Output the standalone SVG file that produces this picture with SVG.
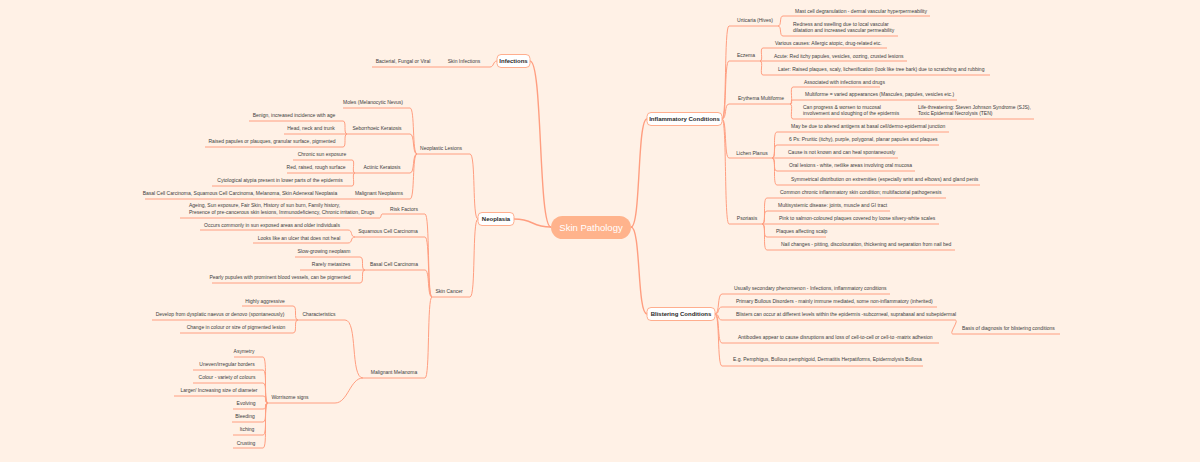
<svg xmlns="http://www.w3.org/2000/svg" width="1200" height="462" viewBox="0 0 1200 462">
<style>
text{font-family:"Liberation Sans",Arial,sans-serif;font-size:5px;fill:#3c3c3c}
.m{text-anchor:middle}
.u,.c{stroke:#FF9E80;stroke-width:1;fill:none}
.c2{stroke:#FF9E80;stroke-width:1.4;fill:none}
.box{fill:#fff;stroke:#FFAE8E;stroke-width:1}
.b{font-weight:bold;font-size:6px;text-anchor:middle;fill:#2a2a2a}
</style>
<rect width="1200" height="462" fill="#FFF1E6"/>
<g id="connectors">
<path class="c2" d="M551,227 C538,227 543,61 530,61"/>
<path class="c2" d="M551,227 C530,227 535,219 514,219"/>
<path class="c2" d="M631,227 C641,227 637,119 647,119"/>
<path class="c2" d="M631,227 C641,227 637,314 647,314"/>
<path class="c" d="M497,61 C493,61 494,67 490,67"/>
<path class="c" d="M478,219 C472,219 476,154 470,154"/>
<path class="c" d="M478,219 C472,219 476,297 470,297"/>
<path class="c" d="M417,154 C412,154 415,108 410,108"/>
<path class="c" d="M417,154 C412,154 415,134 410,134"/>
<path class="c" d="M417,154 C412,154 415,173 410,173"/>
<path class="c" d="M417,154 C412,154 415,199 410,199"/>
<path class="c" d="M347,134 C343,134 347,121 343,121"/>
<path class="c" d="M347,134 L343,134"/>
<path class="c" d="M347,134 C343,134 347,147 343,147"/>
<path class="c" d="M355,173 C351,173 356,160 352,160"/>
<path class="c" d="M355,173 L352,173"/>
<path class="c" d="M355,173 C351,173 356,186 352,186"/>
<path class="c" d="M352,199 L340,199"/>
<path class="c" d="M432,297 C427,297 430,214 425,214"/>
<path class="c" d="M432,297 C427,297 430,237 425,237"/>
<path class="c" d="M432,297 C427,297 430,270 425,270"/>
<path class="c" d="M432,297 C427,297 430,378 425,378"/>
<path class="c" d="M382,214 C381,214 381,218 380,218"/>
<path class="c" d="M355,237 C350,237 353,230 348,230"/>
<path class="c" d="M355,237 C350,237 353,243 348,243"/>
<path class="c" d="M365,270 C360,270 365,257 360,257"/>
<path class="c" d="M365,270 L360,270"/>
<path class="c" d="M365,270 C360,270 365,283 360,283"/>
<path class="c" d="M363,378 C350,378 358,320 345,320"/>
<path class="c" d="M363,378 C350,378 348,403 335,403"/>
<path class="c" d="M298,320 C293,320 298,306 293,306"/>
<path class="c" d="M298,320 L293,320"/>
<path class="c" d="M298,320 C293,320 298,333 293,333"/>
<path class="c" d="M268,403 C263,403 268,357 263,357"/>
<path class="c" d="M268,403 C263,403 268,370 263,370"/>
<path class="c" d="M268,403 C263,403 268,383 263,383"/>
<path class="c" d="M268,403 C263,403 268,396 263,396"/>
<path class="c" d="M268,403 C263,403 268,409 263,409"/>
<path class="c" d="M268,403 C263,403 268,422 263,422"/>
<path class="c" d="M268,403 C263,403 268,435 263,435"/>
<path class="c" d="M268,403 C263,403 268,448 263,448"/>
<path class="c" d="M722,119 C727,119 724,26 729,26"/>
<path class="c" d="M722,119 C727,119 724,61 729,61"/>
<path class="c" d="M722,119 C727,119 724,104 729,104"/>
<path class="c" d="M722,119 C727,119 724,158 729,158"/>
<path class="c" d="M722,119 C727,119 724,224 729,224"/>
<path class="c" d="M778,26 C782,26 779,16 783,16"/>
<path class="c" d="M778,26 C782,26 779,36 783,36"/>
<path class="c" d="M760,61 C764,61 759,48 763,48"/>
<path class="c" d="M760,61 L763,61"/>
<path class="c" d="M760,61 C764,61 759,75 763,75"/>
<path class="c" d="M790,104 C794,104 789,87 793,87"/>
<path class="c" d="M790,104 C794,104 789,100 793,100"/>
<path class="c" d="M790,104 C794,104 789,119 793,119"/>
<path class="c" d="M772,158 C777,158 772,132 777,132"/>
<path class="c" d="M772,158 C777,158 772,145 777,145"/>
<path class="c" d="M772,158 L777,158"/>
<path class="c" d="M772,158 C777,158 772,171 777,171"/>
<path class="c" d="M772,158 C777,158 772,185 777,185"/>
<path class="c" d="M762,224 C767,224 762,198 767,198"/>
<path class="c" d="M762,224 C767,224 762,211 767,211"/>
<path class="c" d="M762,224 L767,224"/>
<path class="c" d="M762,224 C767,224 762,237 767,237"/>
<path class="c" d="M762,224 C767,224 762,250 767,250"/>
<path class="c" d="M715,314 C720,314 717,294 722,294"/>
<path class="c" d="M715,314 C720,314 717,307 722,307"/>
<path class="c" d="M715,314 C720,314 717,320 722,320"/>
<path class="c" d="M715,314 C720,314 717,343 722,343"/>
<path class="c" d="M715,314 C720,314 717,366 722,366"/>
<path class="c" d="M955,320 C960,320 948,334 953,334"/>
</g>
<g id="center"><rect x="551" y="216" width="80" height="23" rx="11.5" fill="#FFB38C"/><text x="591" y="230.5" class="m" style="font-size:9.5px;fill:#fff">Skin Pathology</text></g>
<g id="infections"><rect class="box" x="497" y="54.5" width="33" height="13" rx="4"/><text class="b" x="513.5" y="63.2">Infections</text></g>
<g id="skin-infections"><line class="u" x1="440" y1="67" x2="490" y2="67"/><text class="m" x="464" y="63">Skin Infections</text></g>
<g id="bacterial"><line class="u" x1="372" y1="67" x2="440" y2="67"/><text class="m" x="403" y="63">Bacterial, Fungal or Viral</text></g>
<g id="neoplasia"><rect class="box" x="478" y="212.5" width="36" height="13" rx="4"/><text class="b" x="496" y="221.2">Neoplasia</text></g>
<g id="neoplastic-lesions"><line class="u" x1="417" y1="154" x2="470" y2="154"/><text class="m" x="441" y="150">Neoplastic Lesions</text></g>
<g id="moles"><line class="u" x1="343" y1="108" x2="410" y2="108"/><text class="m" x="373" y="104">Moles (Melanocytic Nevus)</text></g>
<g id="seb"><line class="u" x1="347" y1="134" x2="410" y2="134"/><text class="m" x="377" y="130">Seborrhoeic Keratosis</text></g>
<g id="seb1"><line class="u" x1="249" y1="121" x2="343" y2="121"/><text class="m" x="294" y="117">Benign, increased incidence with age</text></g>
<g id="seb2"><line class="u" x1="284" y1="134" x2="343" y2="134"/><text class="m" x="311" y="130">Head, neck and trunk</text></g>
<g id="seb3"><line class="u" x1="205" y1="147" x2="343" y2="147"/><text class="m" x="272" y="143">Raised papules or plauques, granular surface, pigmented</text></g>
<g id="actinic"><line class="u" x1="355" y1="173" x2="410" y2="173"/><text class="m" x="382" y="169">Actinic Keratosis</text></g>
<g id="ak1"><line class="u" x1="293" y1="160" x2="352" y2="160"/><text class="m" x="322" y="156">Chronic sun exposure</text></g>
<g id="ak2"><line class="u" x1="287" y1="173" x2="352" y2="173"/><text class="m" x="316" y="169">Red, raised, rough surface</text></g>
<g id="ak3"><line class="u" x1="212" y1="186" x2="352" y2="186"/><text class="m" x="280" y="182">Cytological atypia present in lower parts of the epidermis</text></g>
<g id="malig-neo"><line class="u" x1="352" y1="199" x2="410" y2="199"/><text class="m" x="379" y="195">Malignant Neoplasms</text></g>
<g id="mn1"><line class="u" x1="145" y1="199" x2="340" y2="199"/><text class="m" x="240" y="195">Basal Cell Carcinoma, Squamous Cell Carcinoma, Melanoma, Skin Adenexal Neoplasia</text></g>
<g id="skin-cancer"><line class="u" x1="432" y1="297" x2="470" y2="297"/><text class="m" x="449" y="293">Skin Cancer</text></g>
<g id="risk"><line class="u" x1="382" y1="214" x2="425" y2="214"/><text class="m" x="404" y="211">Risk Factors</text></g>
<g id="risk1"><line class="u" x1="180" y1="218" x2="380" y2="218"/><text x="189" y="207">Ageing, Sun exposure, Fair Skin, History of sun burn, Family history,</text><text x="189" y="213.5">Presence of pre-cancerous skin lesions, Immunodeficiency, Chronic irritation, Drugs</text></g>
<g id="scc"><line class="u" x1="355" y1="237" x2="425" y2="237"/><text class="m" x="388" y="233">Squamous Cell Carcinoma</text></g>
<g id="scc1"><line class="u" x1="200" y1="230" x2="348" y2="230"/><text class="m" x="272" y="227">Occurs commonly in sun exposed areas and older individuals</text></g>
<g id="scc2"><line class="u" x1="253" y1="243" x2="348" y2="243"/><text class="m" x="299" y="240">Looks like an ulcer that does not heal</text></g>
<g id="bcc"><line class="u" x1="365" y1="270" x2="425" y2="270"/><text class="m" x="394" y="266">Basal Cell Carcinoma</text></g>
<g id="bcc1"><line class="u" x1="295" y1="257" x2="360" y2="257"/><text class="m" x="324" y="253">Slow-growing neoplasm</text></g>
<g id="bcc2"><line class="u" x1="300" y1="270" x2="360" y2="270"/><text class="m" x="331" y="266">Rarely metasizes</text></g>
<g id="bcc3"><line class="u" x1="212" y1="283" x2="360" y2="283"/><text class="m" x="280" y="279">Pearly pupules with prominent blood vessels, can be pigmented</text></g>
<g id="mm"><line class="u" x1="363" y1="378" x2="425" y2="378"/><text class="m" x="394" y="374">Malignant Melanoma</text></g>
<g id="char"><line class="u" x1="298" y1="320" x2="345" y2="320"/><text class="m" x="319" y="316">Characteristics</text></g>
<g id="ch1"><line class="u" x1="242" y1="306" x2="293" y2="306"/><text class="m" x="265" y="303">Highly aggressive</text></g>
<g id="ch2"><line class="u" x1="152" y1="320" x2="293" y2="320"/><text class="m" x="220" y="316">Develop from dysplatic naevus or denovo (spontaneously)</text></g>
<g id="ch3"><line class="u" x1="180" y1="333" x2="293" y2="333"/><text class="m" x="236" y="329">Change in colour or size of pigmented lesion</text></g>
<g id="worrisome"><line class="u" x1="268" y1="403" x2="335" y2="403"/><text class="m" x="290" y="399">Worrisome signs</text></g>
<g id="w1"><line class="u" x1="234" y1="357" x2="263" y2="357"/><text class="m" x="244" y="353">Asymetry</text></g>
<g id="w2"><line class="u" x1="193" y1="370" x2="263" y2="370"/><text class="m" x="227" y="366">Uneven/irregular borders</text></g>
<g id="w3"><line class="u" x1="193" y1="383" x2="263" y2="383"/><text class="m" x="227" y="379">Colour - variety of colours</text></g>
<g id="w4"><line class="u" x1="174" y1="396" x2="263" y2="396"/><text class="m" x="219" y="392">Larger/ Increasing size of diameter</text></g>
<g id="w5"><line class="u" x1="233" y1="409" x2="263" y2="409"/><text class="m" x="246" y="405">Evolving</text></g>
<g id="w6"><line class="u" x1="232" y1="422" x2="263" y2="422"/><text class="m" x="245" y="418">Bleeding</text></g>
<g id="w7"><line class="u" x1="233" y1="435" x2="263" y2="435"/><text class="m" x="247" y="431">Itching</text></g>
<g id="w8"><line class="u" x1="233" y1="448" x2="263" y2="448"/><text class="m" x="246" y="445">Crusting</text></g>
<g id="inflammatory"><rect class="box" x="647" y="112.5" width="75" height="13" rx="4"/><text class="b" x="684.5" y="121.2">Inflammatory Conditions</text></g>
<g id="urticaria"><line class="u" x1="729" y1="26" x2="778" y2="26"/><text class="m" x="755" y="22">Urticaria (Hives)</text></g>
<g id="u1"><line class="u" x1="783" y1="16" x2="930" y2="16"/><text x="795" y="13">Mast cell degranulation - dermal vascular hyperpermeability</text></g>
<g id="u2"><line class="u" x1="783" y1="36" x2="898" y2="36"/><text x="793" y="26">Redness and swelling due to local vascular</text><text x="793" y="32">dilatation and increased vascular permeability</text></g>
<g id="eczema"><line class="u" x1="729" y1="61" x2="760" y2="61"/><text class="m" x="746" y="57">Eczema</text></g>
<g id="e1"><line class="u" x1="763" y1="48" x2="887" y2="48"/><text x="775" y="45">Various causes: Allergic atopic, drug-related etc.</text></g>
<g id="e2"><line class="u" x1="763" y1="61" x2="907" y2="61"/><text x="774" y="58">Acute: Red itchy papules, vesicles, oozing, crusted lesions</text></g>
<g id="e3"><line class="u" x1="763" y1="75" x2="990" y2="75"/><text x="778" y="71">Later: Raised plaques, scaly, lichenification (look like tree bark) due to scratching and rubbing</text></g>
<g id="erythema"><line class="u" x1="729" y1="104" x2="790" y2="104"/><text class="m" x="761" y="100">Erythema Multiforme</text></g>
<g id="em1"><line class="u" x1="793" y1="87" x2="880" y2="87"/><text x="804" y="84">Associated with infections and drugs</text></g>
<g id="em2"><line class="u" x1="793" y1="100" x2="957" y2="100"/><text x="805" y="96">Multiforme = varied appearances (Mascules, papules, vesicles etc.)</text></g>
<g id="em3"><line class="u" x1="793" y1="119" x2="1034" y2="119"/><text x="803" y="109">Can progress &amp; worsen to mucosal</text><text x="803" y="115">involvement and sloughing of the epidermis</text><text x="918" y="109">Life-threatening: Steven Johnson Syndrome (SJS),</text><text x="918" y="115">Toxic Epidermal Necrolysis (TEN)</text></g>
<g id="lichen"><line class="u" x1="729" y1="158" x2="772" y2="158"/><text class="m" x="752" y="155">Lichen Planus</text></g>
<g id="l1"><line class="u" x1="777" y1="132" x2="949" y2="132"/><text x="791" y="128">May be due to altered antigens at basal cell/dermo-epidermal junction</text></g>
<g id="l2"><line class="u" x1="777" y1="145" x2="939" y2="145"/><text x="789" y="141">6 Ps: Pruritic (itchy), purple, polygonal, planar papules and plaques</text></g>
<g id="l3"><line class="u" x1="777" y1="158" x2="898" y2="158"/><text x="788" y="154">Cause is not known and can heal spontaneously</text></g>
<g id="l4"><line class="u" x1="777" y1="171" x2="915" y2="171"/><text x="789" y="167">Oral lesions - white, netlike areas involving oral mucosa</text></g>
<g id="l5"><line class="u" x1="777" y1="185" x2="980" y2="185"/><text x="791" y="181">Symmetrical distribution on extremities (especially wrist and elbows) and gland penis</text></g>
<g id="psoriasis"><line class="u" x1="729" y1="224" x2="762" y2="224"/><text class="m" x="747" y="220">Psoriasis</text></g>
<g id="p1"><line class="u" x1="767" y1="198" x2="946" y2="198"/><text x="780" y="194">Common chronic inflammatory skin condition; multifactorial pathogenesis</text></g>
<g id="p2"><line class="u" x1="767" y1="211" x2="890" y2="211"/><text x="778" y="207">Multisystemic disease: joints, muscle and GI tract</text></g>
<g id="p3"><line class="u" x1="767" y1="224" x2="939" y2="224"/><text x="779" y="220">Pink to salmon-coloured plaques covered by loose silvery-white scales</text></g>
<g id="p4"><line class="u" x1="767" y1="237" x2="826" y2="237"/><text x="776" y="233">Plaques affecting scalp</text></g>
<g id="p5"><line class="u" x1="767" y1="250" x2="955" y2="250"/><text x="781" y="246">Nail changes - pitting, discolouration, thickening and separation from nail bed</text></g>
<g id="blistering"><rect class="box" x="647" y="307.5" width="68" height="13" rx="4"/><text class="b" x="681" y="316.2">Blistering Conditions</text></g>
<g id="b1"><line class="u" x1="722" y1="294" x2="890" y2="294"/><text x="734" y="290">Usually secondary phenomenon - Infections, inflammatory conditions</text></g>
<g id="b2"><line class="u" x1="722" y1="307" x2="937" y2="307"/><text x="736" y="303">Primary Bullous Disorders - mainly immune mediated, some non-inflammatory (inherited)</text></g>
<g id="b3"><line class="u" x1="722" y1="320" x2="955" y2="320"/><text x="736" y="316">Blisters can occur at different levels within the epidermis -subcorneal, suprabasal and subepidermal</text></g>
<g id="b4"><line class="u" x1="722" y1="343" x2="939" y2="343"/><text x="738" y="339">Antibodies appear to cause disruptions and loss of cell-to-cell or cell-to -matrix adhesion</text></g>
<g id="b5"><line class="u" x1="722" y1="366" x2="923" y2="366"/><text x="733" y="361">E.g. Pemphigus, Bullous pemphigoid, Dermatitis Herpatiforms, Epidermolysis Bullosa</text></g>
<g id="basis"><line class="u" x1="953" y1="334" x2="1060" y2="334"/><text x="962" y="330">Basis of diagnosis for blistering conditions</text></g>
</svg>
